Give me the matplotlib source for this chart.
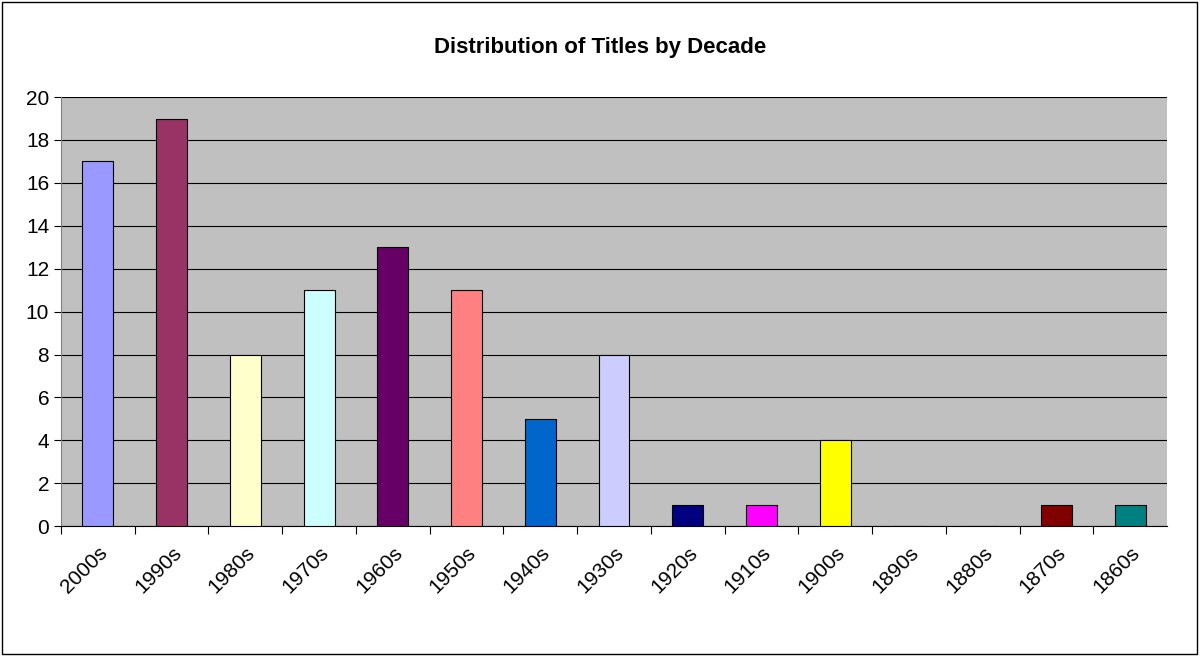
import numpy as np
import matplotlib.pyplot as plt
from matplotlib.patches import Rectangle

decades = ['2000s', '1990s', '1980s', '1970s', '1960s', '1950s', '1940s', '1930s',
           '1920s', '1910s', '1900s', '1890s', '1880s', '1870s', '1860s']
counts = [17, 19, 8, 11, 13, 11, 5, 8, 1, 1, 4, 0, 0, 1, 1]
colors = ['#9999FF', '#993366', '#FFFFCC', '#CCFFFF', '#660066', '#FF8080', '#0066CC',
          '#CCCCFF', '#000080', '#FF00FF', '#FFFF00', '#FFFFFF', '#FFFFFF', '#800000', '#008080']

plt.rcParams['font.family'] = ['Liberation Sans', 'DejaVu Sans']
fig = plt.figure(figsize=(12.01, 6.56), dpi=100)
fig.patches.append(Rectangle((0.002, 0.003), 0.995, 0.994, transform=fig.transFigure,
                             fill=False, edgecolor='black', linewidth=1))
ax = fig.add_axes([0.0508, 0.198, 0.9209, 0.654])
ax.set_facecolor('#C0C0C0')

x = np.arange(len(decades))
ax.bar(x, counts, width=0.42, color=colors, edgecolor='black', linewidth=0.8, zorder=3)

ax.set_xlim(-0.5, len(decades) - 0.5)
ax.set_ylim(0, 20)
ax.set_yticks(range(0, 21, 2))
ax.yaxis.grid(True, color='black', linewidth=0.8, zorder=0)
ax.set_xticks(x - 0.5, minor=False)
ax.set_xticks(x, minor=True)
ax.set_xticklabels([])
ax.set_xticklabels(decades, minor=True, rotation=45, ha='right', rotation_mode='anchor', fontsize=15)
ax.tick_params(axis='x', which='minor', length=0, pad=12)
ax.tick_params(axis='x', which='major', length=6, direction='out')
ax.tick_params(axis='y', labelsize=15, length=5, direction='out')
for s in ['top', 'right']:
    ax.spines[s].set_visible(False)
ax.spines['left'].set_color('#808080')
ax.spines['bottom'].set_color('black')

fig.text(0.5, 0.928, 'Distribution of Titles by Decade', ha='center', va='center',
         fontsize=16, fontweight='bold')

fig.savefig('out.png', dpi=100)
